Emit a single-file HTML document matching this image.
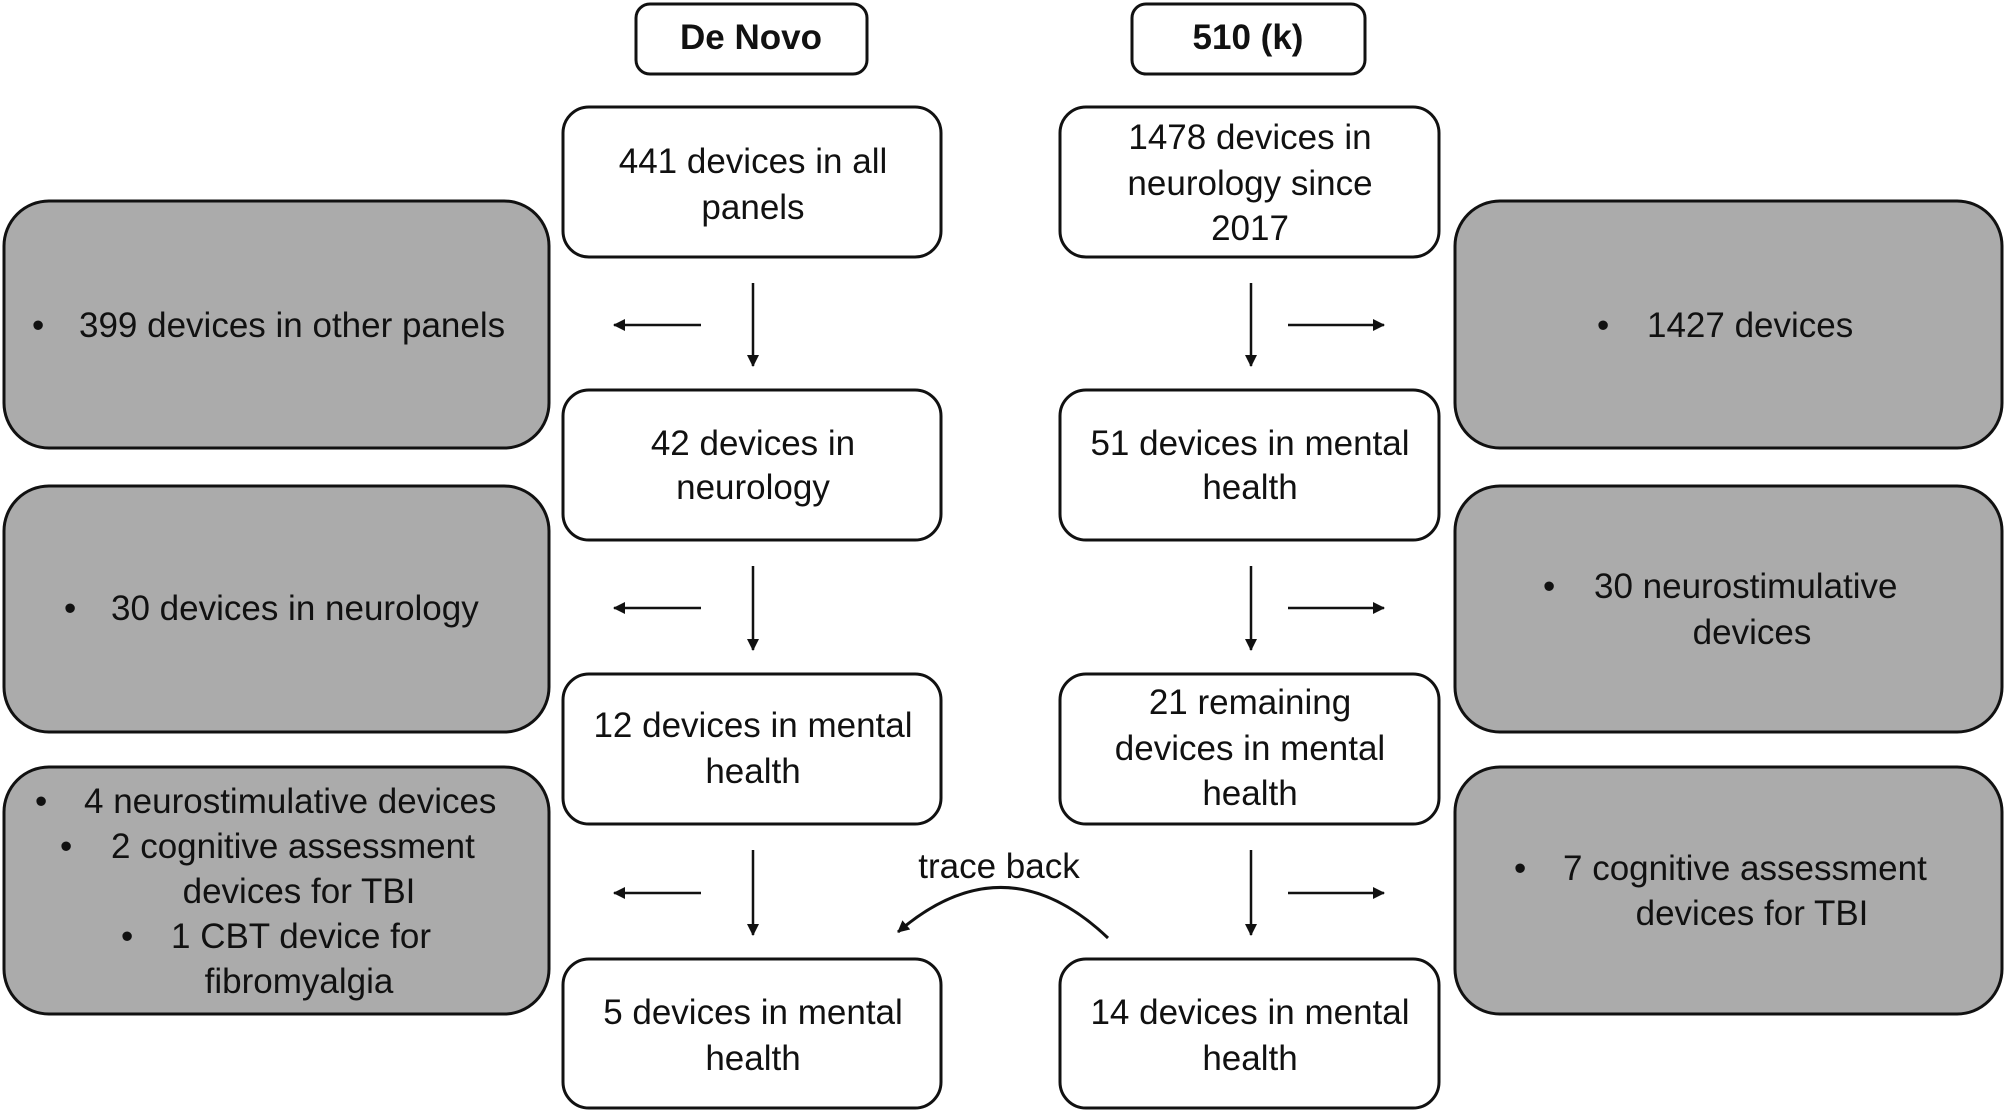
<!DOCTYPE html>
<html><head><meta charset="utf-8"><style>
html,body{margin:0;padding:0;background:#fff;}
svg{display:block;}
text{font-family:"Liberation Sans",sans-serif;font-size:35px;fill:#111;}
</style></head><body>
<svg width="2005" height="1112" viewBox="0 0 2005 1112" xmlns="http://www.w3.org/2000/svg">
<defs>
<marker id="ah" markerWidth="12" markerHeight="12" refX="11" refY="6" orient="auto" markerUnits="userSpaceOnUse">
<path d="M0,0 L12,6 L0,12 z" fill="#111"/></marker>
</defs>
<g stroke="#111" stroke-width="3" fill="#fff">
<rect x="636" y="4" width="231" height="70" rx="14"/>
<rect x="1132" y="4" width="233" height="70" rx="14"/>
<rect x="563" y="107" width="378" height="150" rx="26"/>
<rect x="563" y="390" width="378" height="150" rx="26"/>
<rect x="563" y="674" width="378" height="150" rx="26"/>
<rect x="563" y="959" width="378" height="149" rx="26"/>
<rect x="1060" y="107" width="379" height="150" rx="26"/>
<rect x="1060" y="390" width="379" height="150" rx="26"/>
<rect x="1060" y="674" width="379" height="150" rx="26"/>
<rect x="1060" y="959" width="379" height="149" rx="26"/>
</g>
<g stroke="#111" stroke-width="3" fill="#ababab">
<rect x="4" y="201" width="545" height="247" rx="45"/>
<rect x="4" y="486" width="545" height="246" rx="45"/>
<rect x="4" y="767" width="545" height="247" rx="45"/>
<rect x="1455" y="201" width="547" height="247" rx="45"/>
<rect x="1455" y="486" width="547" height="246" rx="45"/>
<rect x="1455" y="767" width="547" height="247" rx="45"/>
</g>
<g stroke="#111" stroke-width="2.5" fill="none" marker-end="url(#ah)">
<line x1="753" y1="283" x2="753" y2="366"/>
<line x1="753" y1="566" x2="753" y2="650"/>
<line x1="753" y1="850" x2="753" y2="935"/>
<line x1="1251" y1="283" x2="1251" y2="366"/>
<line x1="1251" y1="566" x2="1251" y2="650"/>
<line x1="1251" y1="850" x2="1251" y2="935"/>
<line x1="701" y1="325" x2="614" y2="325"/>
<line x1="701" y1="608" x2="614" y2="608"/>
<line x1="701" y1="893" x2="614" y2="893"/>
<line x1="1288" y1="325" x2="1384" y2="325"/>
<line x1="1288" y1="608" x2="1384" y2="608"/>
<line x1="1288" y1="893" x2="1384" y2="893"/>
<path d="M1108,938 Q1005,840 898,932" stroke-width="3"/>
</g>
<g text-anchor="middle">
<text x="751" y="49" font-weight="bold">De Novo</text>
<text x="1248" y="49" font-weight="bold">510 (k)</text>
<text x="753" y="173">441 devices in all</text>
<text x="753" y="219">panels</text>
<text x="753" y="455">42 devices in</text>
<text x="753" y="499">neurology</text>
<text x="753" y="737">12 devices in mental</text>
<text x="753" y="783">health</text>
<text x="753" y="1024">5 devices in mental</text>
<text x="753" y="1070">health</text>
<text x="1250" y="149">1478 devices in</text>
<text x="1250" y="195">neurology since</text>
<text x="1250" y="240">2017</text>
<text x="1250" y="455">51 devices in mental</text>
<text x="1250" y="499">health</text>
<text x="1250" y="714">21 remaining</text>
<text x="1250" y="760">devices in mental</text>
<text x="1250" y="805">health</text>
<text x="1250" y="1024">14 devices in mental</text>
<text x="1250" y="1070">health</text>
<text x="999" y="878">trace back</text>
<text x="299" y="903">devices for TBI</text>
<text x="299" y="993">fibromyalgia</text>
<text x="1752" y="644">devices</text>
<text x="1752" y="925">devices for TBI</text>
</g>
<g>
<text x="32" y="337">•</text><text x="79" y="337">399 devices in other panels</text>
<text x="64" y="620">•</text><text x="111" y="620">30 devices in neurology</text>
<text x="35" y="813">•</text><text x="84" y="813">4 neurostimulative devices</text>
<text x="60" y="858">•</text><text x="111" y="858">2 cognitive assessment</text>
<text x="121" y="948">•</text><text x="171" y="948">1 CBT device for</text>
<text x="1597" y="337">•</text><text x="1647" y="337">1427 devices</text>
<text x="1543" y="598">•</text><text x="1594" y="598">30 neurostimulative</text>
<text x="1514" y="880">•</text><text x="1563" y="880">7 cognitive assessment</text>
</g>
</svg>
</body></html>
